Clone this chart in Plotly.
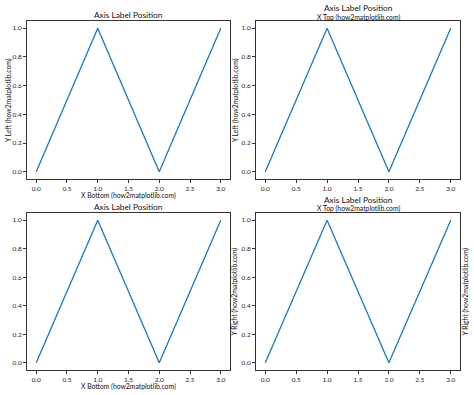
import plotly.graph_objects as go

x_vals = [0, 1, 2, 3]
y_vals = [0, 1, 0, 1]
title_text = "Axis Label Position"
x_labels = ["X Bottom (how2matplotlib.com)", "X Top (how2matplotlib.com)",
            "X Bottom (how2matplotlib.com)", "X Top (how2matplotlib.com)"]
y_labels = ["Y Left (how2matplotlib.com)", "Y Left (how2matplotlib.com)",
            "Y Right (how2matplotlib.com)", "Y Right (how2matplotlib.com)"]
x_ticks = [0.0, 0.5, 1.0, 1.5, 2.0, 2.5, 3.0]
y_ticks = [0.0, 0.2, 0.4, 0.6, 0.8, 1.0]

W, H = 474, 395
FONT = "Lato"

def px(x):
    return x / W

def py(y):
    return 1 - y / H

# axes boxes in pixels: (left, right, top, bottom)
boxes = [(27, 230, 21, 179), (256, 460, 21, 179),
         (27, 230, 213, 370), (256, 460, 213, 370)]

fig = go.Figure()
for i, (l, r, t, b) in enumerate(boxes):
    n = "" if i == 0 else str(i + 1)
    fig.add_trace(go.Scatter(x=x_vals, y=y_vals, mode="lines",
                             line=dict(color="#1f77b4", width=1.3),
                             xaxis="x" + n, yaxis="y" + n, showlegend=False))
    axcommon = dict(showgrid=False, zeroline=False, showline=True, mirror=True,
                    linecolor="#333333", linewidth=1, ticks="outside",
                    ticklen=3, tickwidth=0.8, tickcolor="#333333",
                    tickfont=dict(size=6.5, color="#222222", family=FONT))
    fig.update_layout(**{
        "xaxis" + n: dict(domain=[px(l), px(r)], range=[-0.15, 3.15],
                          tickvals=x_ticks, tickformat=".1f",
                          anchor="y" + n, **axcommon),
        "yaxis" + n: dict(domain=[py(b), py(t)], range=[-0.05, 1.05],
                          tickvals=y_ticks, tickformat=".1f",
                          anchor="x" + n, **axcommon),
    })

ann = []
def add(text, x, y, size=6.8, angle=0):
    ann.append(dict(text=text, x=px(x), y=py(y), xref="paper", yref="paper",
                    showarrow=False, xanchor="center", yanchor="middle",
                    textangle=angle, font=dict(size=size, color="#111111", family=FONT)))

# top-left
add(title_text, 128.5, 15.5, 8.3)
add(x_labels[0], 128.5, 195.5)
add(y_labels[0], 8, 100, angle=-90)
# top-right
add(title_text, 358, 8, 8.3)
add(x_labels[1], 358, 17)
add(y_labels[1], 235, 100, angle=-90)
# bottom-left
add(title_text, 128.5, 207, 8.3)
add(x_labels[2], 128.5, 386.5)
add(y_labels[2], 234, 291.5, angle=-90)
# bottom-right
add(title_text, 358, 199.5, 8.3)
add(x_labels[3], 358, 208.5)
add(y_labels[3], 465, 291.5, angle=-90)

fig.update_layout(width=W, height=H, margin=dict(l=0, r=0, t=0, b=0),
                  paper_bgcolor="white", plot_bgcolor="white",
                  annotations=ann, font=dict(family=FONT))
fig.write_html("out.html", config={"displayModeBar": False},
               post_script="document.body.style.margin='0';")
